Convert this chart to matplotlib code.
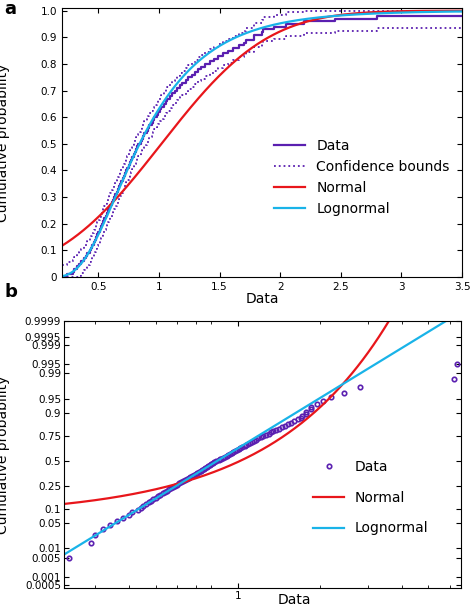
import math
import numpy as np
import matplotlib
matplotlib.use("Agg")
import matplotlib.pyplot as plt

data = [0.24,0.29,0.30,0.32,0.34,0.36,0.38,0.40,0.41,0.43,
        0.44,0.45,0.46,0.47,0.48,0.49,0.50,0.51,0.52,0.53,
        0.54,0.55,0.56,0.57,0.58,0.59,0.60,0.61,0.62,0.63,
        0.64,0.65,0.66,0.67,0.68,0.69,0.70,0.71,0.72,0.73,
        0.74,0.75,0.76,0.77,0.78,0.79,0.80,0.81,0.82,0.83,
        0.85,0.86,0.87,0.88,0.90,0.91,0.92,0.94,0.95,0.96,
        0.98,0.99,1.01,1.02,1.04,1.06,1.07,1.09,1.11,1.13,
        1.15,1.17,1.19,1.22,1.24,1.27,1.30,1.32,1.35,1.38,
        1.42,1.45,1.49,1.53,1.57,1.61,1.66,1.72,1.78,1.85,
        1.70,1.78,1.86,1.95,2.05,2.20,2.45,2.80,6.20,6.40]
normal_mu, normal_sd = 1.02, 0.69
logn_mu, logn_sigma = math.log(0.84), 0.52
conf_halfwidth = 0.045
ytick_a = [0, 0.1, 0.2, 0.3, 0.4, 0.5, 0.6, 0.7, 0.8, 0.9, 1.0]
ytick_a_labels = ["0", "0.1", "0.2", "0.3", "0.4", "0.5", "0.6", "0.7", "0.8", "0.9", "1.0"]
xtick_a = [0.5, 1, 1.5, 2, 2.5, 3, 3.5]
ytick_b = [0.0005, 0.001, 0.005, 0.01, 0.05, 0.1, 0.25, 0.5, 0.75, 0.9, 0.95, 0.99, 0.995, 0.999, 0.9995, 0.9999]

PURPLE = "#5a1fb0"; RED = "#e8161b"; CYAN = "#19b3e8"

def ncdf(z):
    return 0.5 * (1 + math.erf(z / math.sqrt(2)))

def ppf(p):
    lo, hi = -10.0, 10.0
    for _ in range(80):
        m = (lo + hi) / 2
        if ncdf(m) < p: lo = m
        else: hi = m
    return (lo + hi) / 2

x = np.sort(np.array(data)); n = len(x)
ecdf = np.arange(1, n + 1) / n

fig = plt.figure(figsize=(4.74, 6.13), dpi=100)
W, H = 474, 613
axa = fig.add_axes([62 / W, 1 - 277 / H, 400 / W, 269 / H])
axb = fig.add_axes([64 / W, 1 - 588 / H, 397 / W, 267 / H])

xs = np.linspace(0.2, 3.5, 300)
xe = np.concatenate([[0.2], x])
ye = np.concatenate([[0], ecdf])
axa.step(xe, ye, where="post", color=PURPLE, lw=1.6, label="Data")
axa.step(xe, np.clip(ye + conf_halfwidth, 0, 1), where="post", color=PURPLE, lw=1.3, ls=":", label="Confidence bounds")
axa.step(xe, np.clip(ye - conf_halfwidth, 0, 1), where="post", color=PURPLE, lw=1.3, ls=":")
axa.plot(xs, [ncdf((v - normal_mu) / normal_sd) for v in xs], color=RED, lw=1.6, label="Normal")
axa.plot(xs, [ncdf((math.log(v) - logn_mu) / logn_sigma) for v in xs], color=CYAN, lw=1.6, label="Lognormal")
axa.set_xlim(0.2, 3.5); axa.set_ylim(0, 1.01)
axa.set_xticks(xtick_a); axa.set_xticklabels(["0.5", "1", "1.5", "2", "2.5", "3", "3.5"])
axa.set_yticks(ytick_a); axa.set_yticklabels(ytick_a_labels)
axa.tick_params(direction="in", top=True, right=True, labelsize=7.5)
axa.set_xlabel("Data", fontsize=10, labelpad=0)
axa.set_ylabel("Cumulative probability", fontsize=10)
axa.yaxis.set_label_coords(-0.13, 0.5)
axa.legend(loc="lower right", bbox_to_anchor=(1.0, 0.18), frameon=False, fontsize=10, handlelength=2.2)

p = (np.arange(1, n + 1) - 0.5) / n
zb = [ppf(v) for v in p]
xl = np.geomspace(0.23, 6.6, 300)
axb.plot(x, zb, "o", ms=3.2, mfc="none", mec=PURPLE, mew=1.2, ls="none", label="Data")
axb.plot(xl, [(v - normal_mu) / normal_sd for v in xl], color=RED, lw=1.6, label="Normal")
axb.plot(xl, [(math.log(v) - logn_mu) / logn_sigma for v in xl], color=CYAN, lw=1.6, label="Lognormal")
axb.set_xscale("log")
axb.set_xlim(0.23, 6.6); axb.set_ylim(-3.38, 3.72)
axb.set_xticks([1]); axb.set_xticklabels(["1"])
axb.set_xticks([0.3, 0.4, 0.5, 0.6, 0.7, 0.8, 2, 3, 4, 5, 6], minor=True)
axb.xaxis.set_minor_formatter(matplotlib.ticker.NullFormatter())
axb.set_yticks([ppf(v) for v in ytick_b]); axb.set_yticklabels([f"{v:g}" for v in ytick_b])
axb.tick_params(which="both", direction="in", top=True, right=True, labelsize=7.5, pad=2)
axb.set_xlabel("Data", fontsize=10)
axb.xaxis.set_label_coords(0.58, -0.018)
axb.xaxis.label.set_va("top")
axb.set_ylabel("Cumulative probability", fontsize=10)
axb.yaxis.set_label_coords(-0.135, 0.5)
axb.legend(loc="lower right", bbox_to_anchor=(0.95, 0.15), frameon=False, fontsize=10, handlelength=2.2, labelspacing=1.2)

fig.text(4 / W, 1 - 14 / H, "a", fontsize=13, fontweight="bold")
fig.text(4 / W, 1 - 297 / H, "b", fontsize=13, fontweight="bold")
fig.savefig("out.png", dpi=100)
